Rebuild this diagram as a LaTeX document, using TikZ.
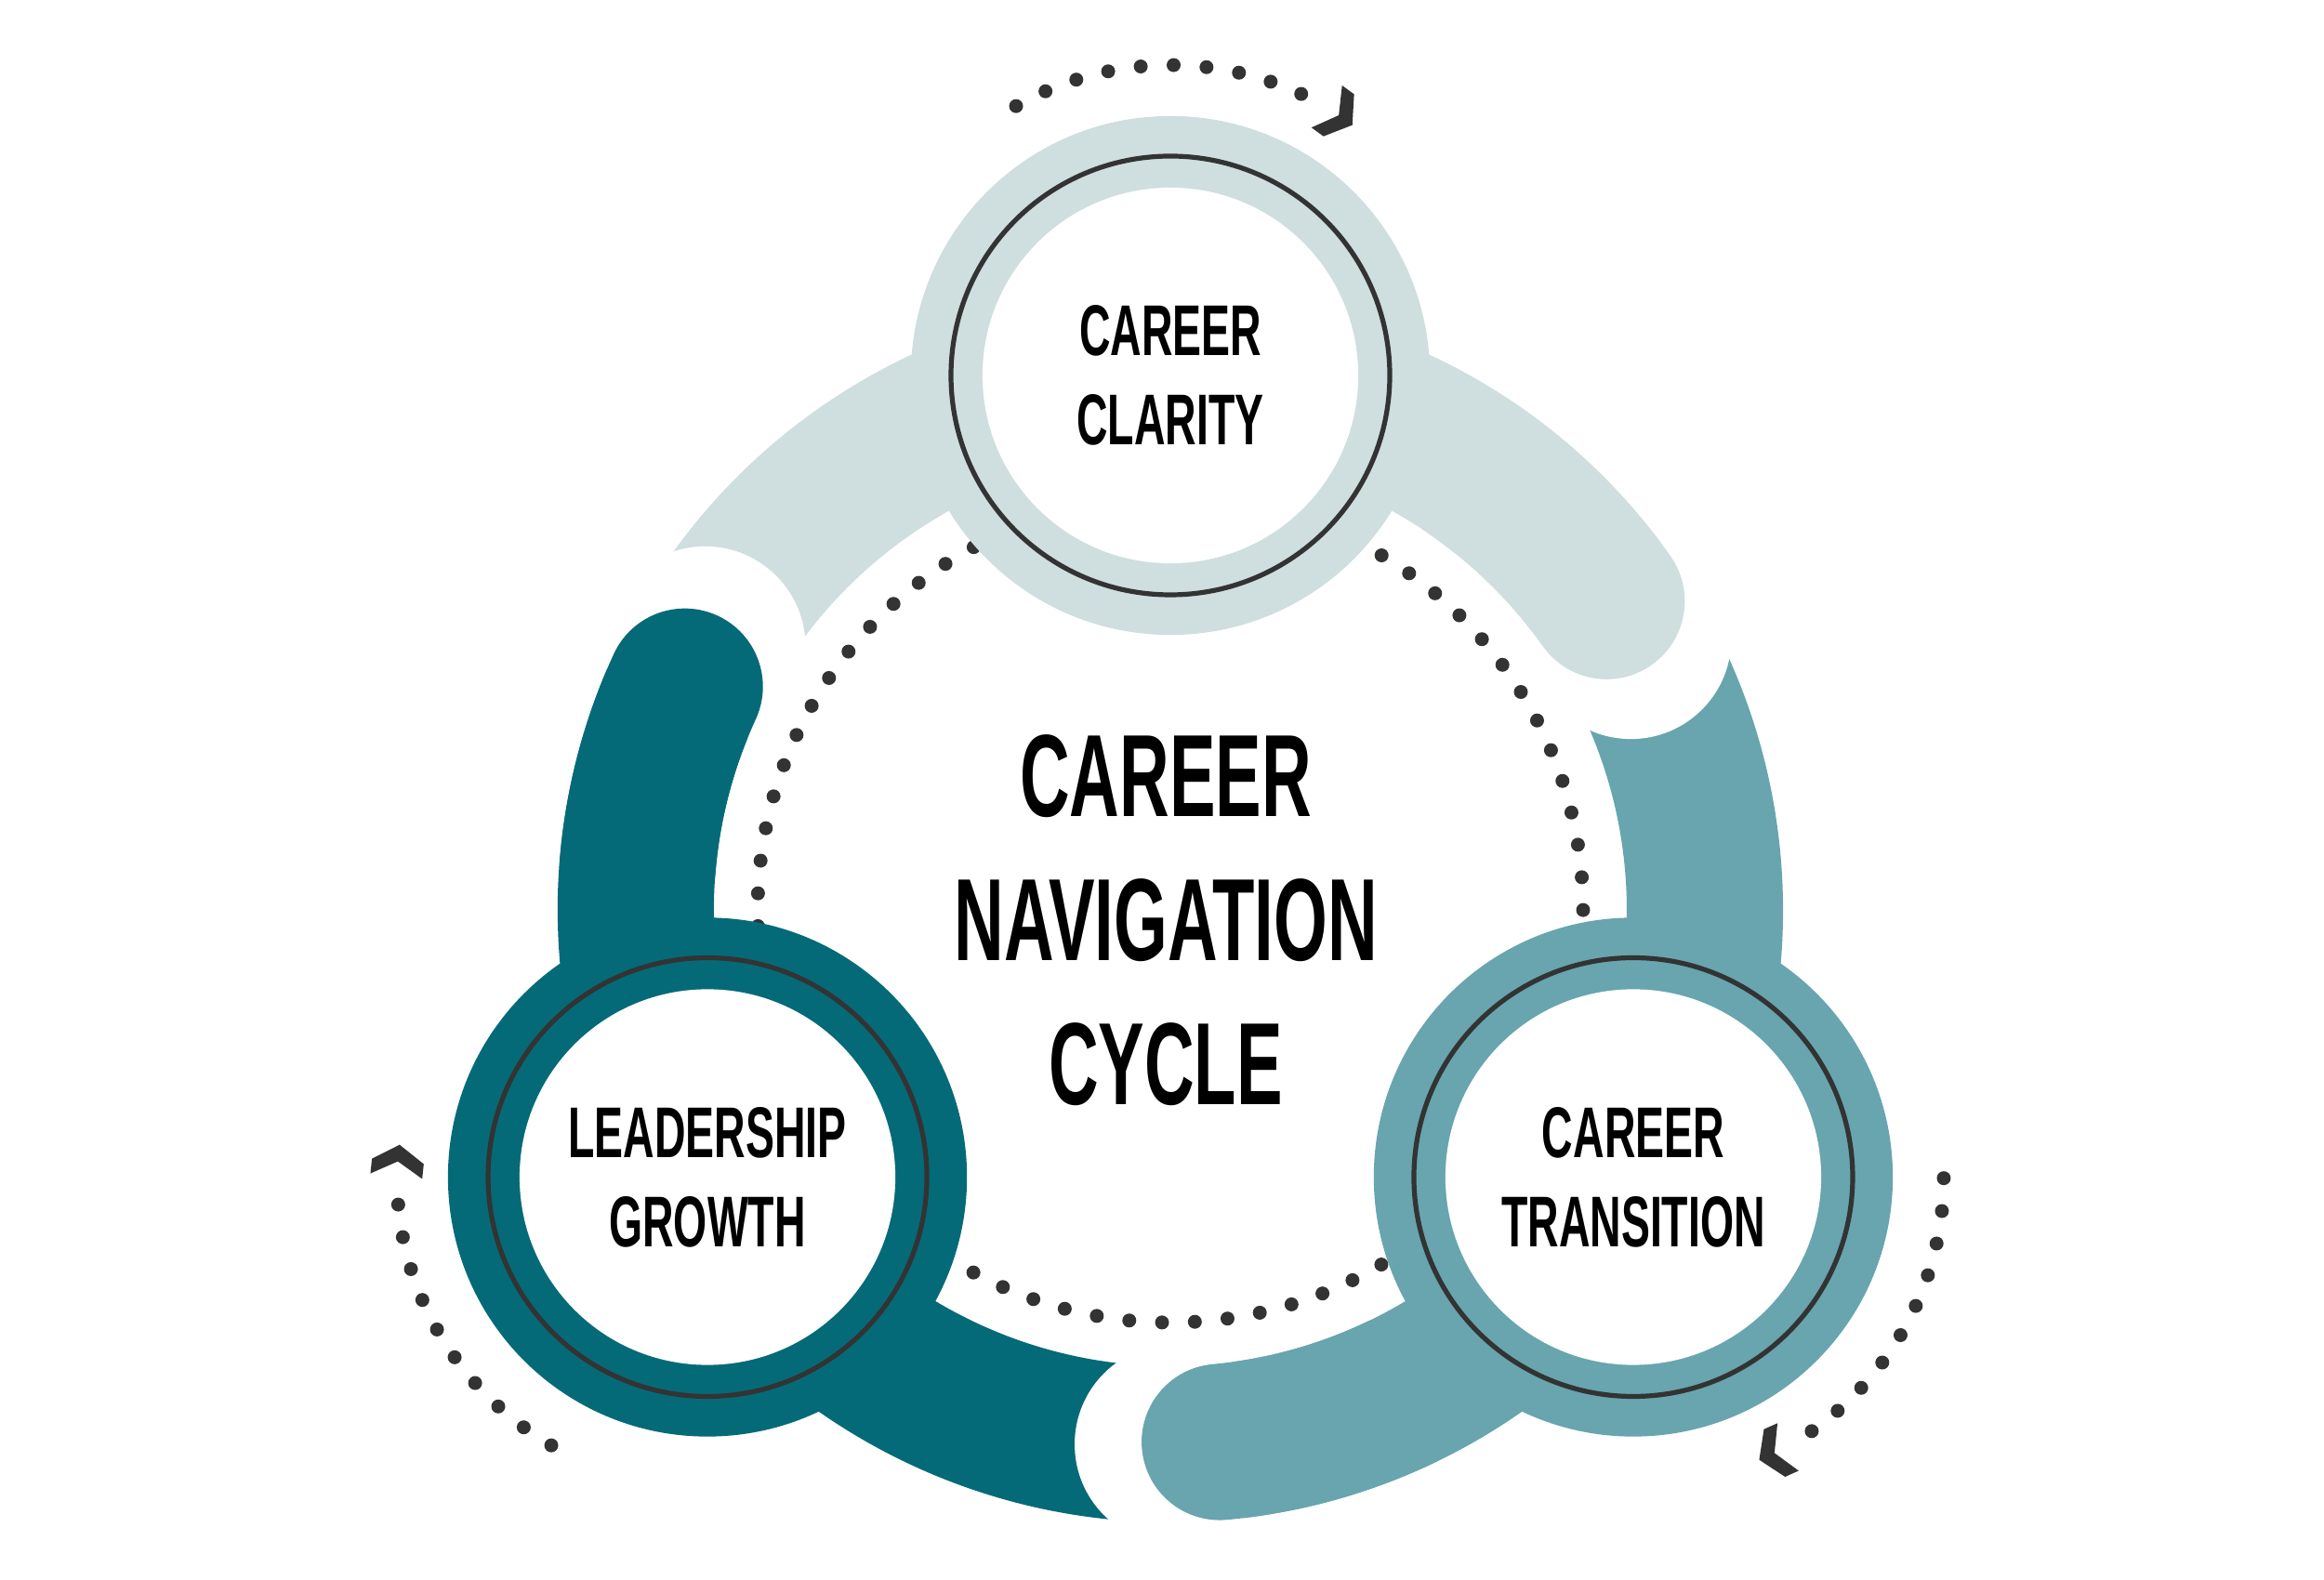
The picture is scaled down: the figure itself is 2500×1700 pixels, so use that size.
\documentclass[tikz,border=0pt]{standalone}
\usepackage{fontspec}
\newfontfamily\stagefont[FakeStretch=0.6]{Liberation Sans Bold}
\newfontfamily\titlefont[FakeStretch=0.59]{Liberation Sans Bold}
\usetikzlibrary{calc}

\definecolor{clarityc}{HTML}{CFDEDE}
\definecolor{leaderc}{HTML}{056A77}
\definecolor{transc}{HTML}{68A5AE}
\definecolor{dotc}{HTML}{333333}

\tikzset{
	band/.style={line width=1.68cm},
	halo/.style={fill=white},
	dotmark/.style={fill=dotc},
	chevron/.style={fill=dotc},
	stagedisk/.style={circle, minimum size=5.58cm, inner sep=0pt},
	stagering/.style={draw=dotc, line width=0.052cm},
	stagelabel/.style={circle, fill=white, minimum size=4.04cm, inner sep=0pt, align=center,
		font={\stagefont\fontsize{22}{27.3}\selectfont}},
	titlelabel/.style={align=center, font={\titlefont\fontsize{35.8}{44}\selectfont}}
}

\begin{document}
\begin{tikzpicture}[x=0.01cm, y=0.01cm]
	\useasboundingbox (0, 0) rectangle (2500, 1700);
	\coordinate (hub) at (1259, 721);

	% inner dotted ring
	\foreach \i in {0,...,78}
	\fill[dotmark] ($(hub)+({177.7+4.557*\i}:444)$) circle[radius=7.5];

	% bands of the cycle
	\foreach \s/\c in {35.3/clarityc, 155.3/leaderc, 275.3/transc}
	\draw[band, \c] ($(hub)+(\s:575)$) arc[start angle=\s, end angle=\s+115.5, radius=575];

	% rounded band heads with their white gap
	\foreach \s/\c in {35.3/clarityc, 155.3/leaderc, 275.3/transc} {
		\fill[halo] ($(hub)+({\s-4.8}:575)$) circle[radius=108];
		\draw[band, \c, line cap=round] ($(hub)+(\s:575)$) arc[start angle=\s, end angle=\s+20, radius=575];
	}

	% career clarity
	\node[stagedisk, fill=clarityc] (clarityback) at ($(hub)+(90:575)$) {};
	\draw[stagering] (clarityback.center) circle[radius=236];
	\node[stagelabel] (clarity) at (clarityback.center) {CAREER\\CLARITY};

	% leadership growth
	\node[stagedisk, fill=leaderc] (leaderback) at ($(hub)+(210:575)$) {};
	\draw[stagering] (leaderback.center) circle[radius=236];
	\node[stagelabel] (leader) at (leaderback.center) {LEADERSHIP\\GROWTH};

	% career transition
	\node[stagedisk, fill=transc] (transback) at ($(hub)+(330:575)$) {};
	\draw[stagering] (transback.center) circle[radius=236];
	\node[stagelabel] (trans) at (transback.center) {CAREER\\TRANSITION};

	% outer dotted arcs with chevrons
	\foreach \n/\a in {clarityback/90, leaderback/210, transback/330} {
		\foreach \j in {0,...,9}
		\fill[dotmark] ($(\n.center)+({\a+29.8-\j*6.08}:334)$) circle[radius=7.5];
		\begin{scope}[shift={(\n.center)}, rotate=\a-36]
			\fill[chevron] (333, 0) -- (361, 18) -- (361, 34) -- (333, 18) -- (305, 34) -- (305, 18) -- cycle;
		\end{scope}
	}

	% title
	\node[titlelabel] (title) at ($(hub)+(-5, -11)$) {CAREER\\NAVIGATION\\CYCLE};
\end{tikzpicture}
\end{document}
